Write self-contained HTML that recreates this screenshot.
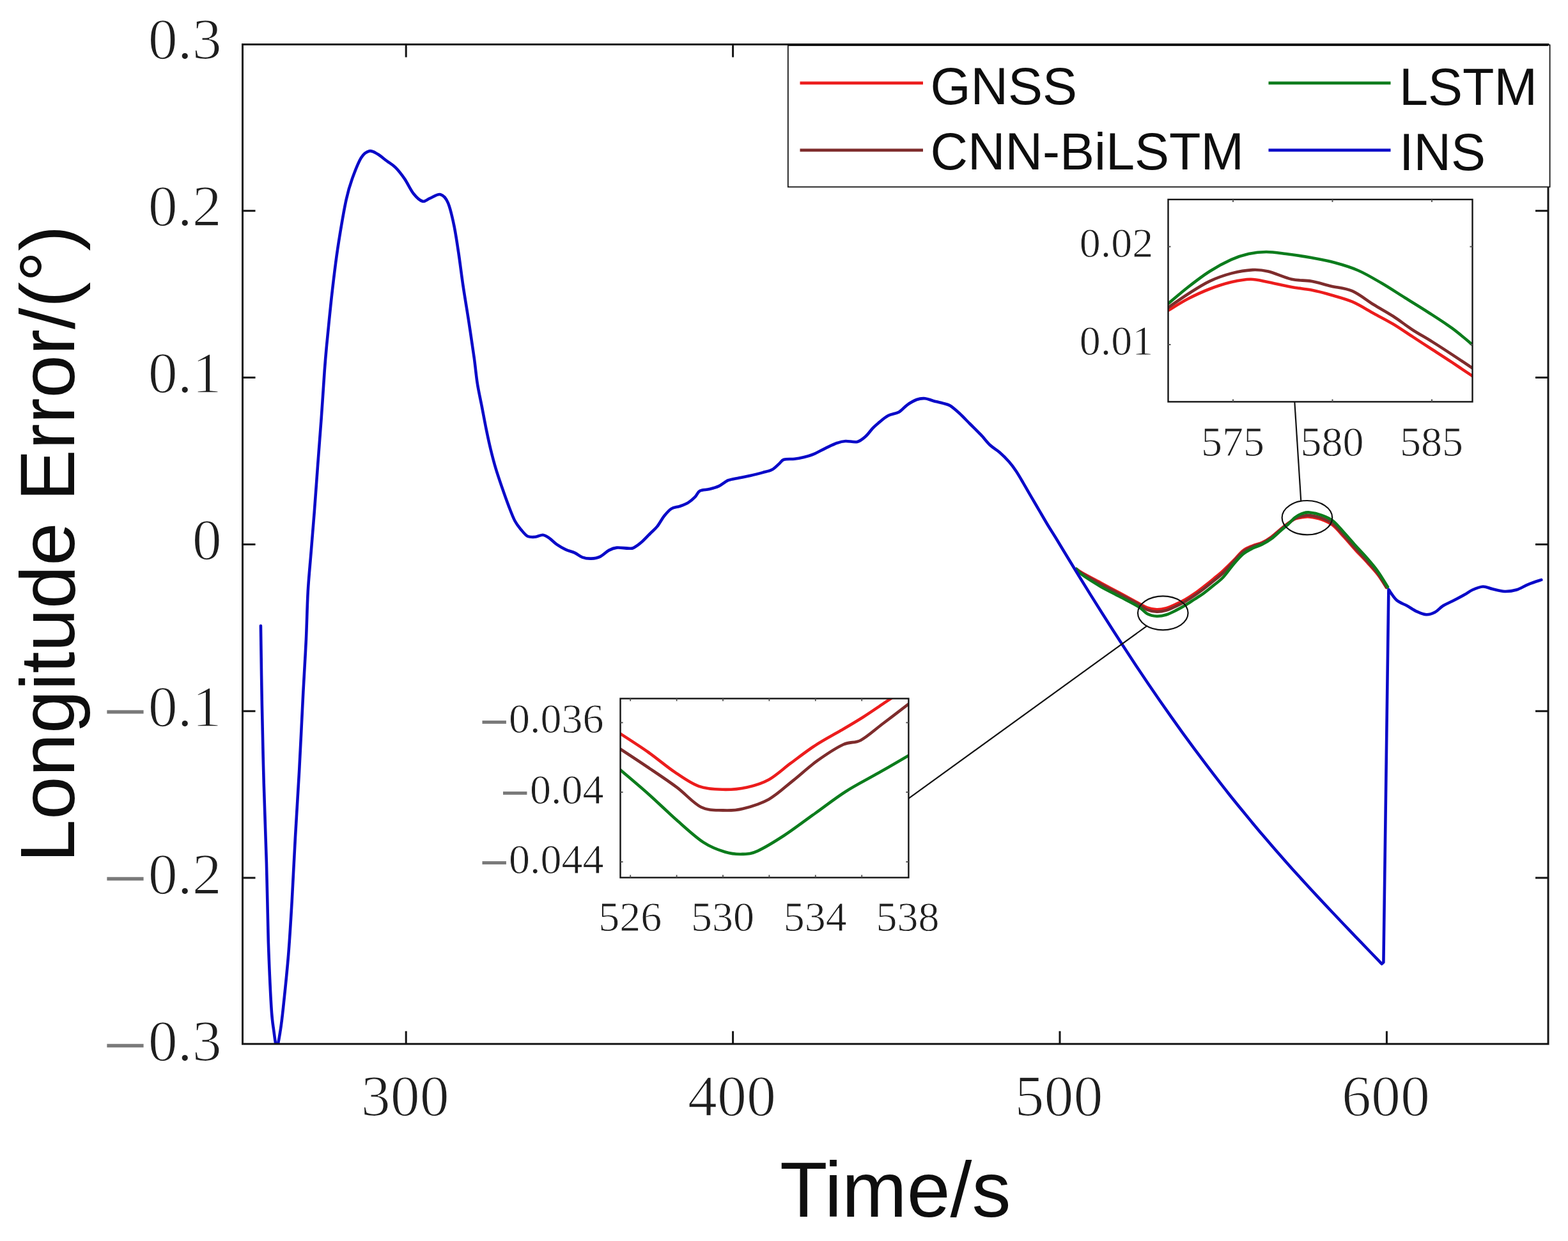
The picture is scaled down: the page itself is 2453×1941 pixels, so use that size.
<!DOCTYPE html><html><head><meta charset="utf-8"><title>Longitude Error</title>
<style>html,body{margin:0;padding:0;background:#fff;}svg{display:block;}.tk{font-family:"Liberation Serif",serif;fill:#1e1e1e;stroke:#fff;stroke-width:1.6px;}.ti{font-family:"Liberation Serif",serif;fill:#1e1e1e;stroke:#fff;stroke-width:0.9px;}.mn{font-family:"Liberation Serif",serif;fill:#7a7a7a;}.lb{font-family:"Liberation Sans",Arial,sans-serif;fill:#0e0e0e;}</style></head><body>
<svg width="2453" height="1941" viewBox="0 0 2453 1941">
<rect width="2453" height="1941" fill="#fff"/>
<defs>
<clipPath id="cm"><rect x="379.5" y="69.5" width="2042.5" height="1563.3"/></clipPath>
<clipPath id="c1"><rect x="970.5" y="1092.6" width="450.9" height="280"/></clipPath>
<clipPath id="c2"><rect x="1827.5" y="312" width="476" height="316.4"/></clipPath>
</defs>
<g clip-path="url(#cm)" fill="none" stroke-linejoin="round" stroke-linecap="round" stroke-width="4.6">
<path d="M1684,890C1685.4,890.9 1685.9,891.9 1692.2,895.5C1698.5,899.1 1712,906.2 1721.9,911.5C1731.8,916.8 1741.6,922.1 1751.5,927.4C1761.4,932.7 1774,939.6 1781.2,943.4C1788.4,947.2 1790,948.7 1794.8,950.4C1799.5,952.1 1804.8,953.3 1809.7,953.4C1814.7,953.5 1819.6,952.6 1824.5,951.2C1829.4,949.8 1834.4,947.4 1839.3,945.2C1844.2,943 1849.1,940.6 1854.1,937.8C1859,935 1864,931.7 1869,928.2C1874,924.8 1878.9,920.9 1883.8,917.1C1888.7,913.3 1893.7,909.3 1898.6,905.2C1903.5,901.1 1908.2,897.4 1913.4,892.6C1918.6,887.8 1924.8,881.7 1930,876.4C1935.2,871.1 1939.8,864.8 1944.8,861C1949.8,857.2 1954.8,855.6 1959.7,853.5C1964.7,851.4 1969.6,850.8 1974.5,848.5C1979.4,846.2 1984.4,843.1 1989.3,839.5C1994.2,835.9 1999.8,830.5 2004.1,827C2008.4,823.5 2011.5,821.1 2015.2,818.5C2018.9,815.9 2022.6,813.1 2026.4,811.5C2030.2,809.9 2034.3,809.5 2038,809C2041.7,808.5 2043.7,807.8 2048.6,808.4C2053.5,809 2061.5,810.3 2067.6,812.5C2073.7,814.7 2079.2,816.9 2085.1,821.5C2090.9,826.1 2096.8,833.6 2102.7,840C2108.6,846.4 2114.5,853.6 2120.3,860C2126.2,866.4 2132,872.1 2137.8,878.5C2143.7,884.9 2150.2,891.8 2155.4,898.5C2160.6,905.2 2166.7,915.6 2169,919" stroke="#ec1c1c"/>
<path d="M1684,890C1685.4,891.1 1685.9,892.6 1692.2,896.5C1698.5,900.4 1712,908 1721.9,913.4C1731.8,918.9 1741.6,923.9 1751.5,929.2C1761.4,934.5 1774,941.2 1781.2,945.2C1788.4,949.3 1790,951.6 1794.8,953.6C1799.5,955.5 1804.8,956.7 1809.7,956.8C1814.7,957 1819.6,956 1824.5,954.6C1829.4,953.2 1834.4,950.7 1839.3,948.4C1844.2,946.1 1849.1,943.6 1854.1,940.7C1859,937.9 1864,934.5 1869,931.1C1874,927.8 1878.9,924.2 1883.8,920.5C1888.7,916.7 1893.7,912.7 1898.6,908.6C1903.5,904.6 1908.2,901.1 1913.4,896C1918.6,891 1924.8,883.9 1930,878.3C1935.2,872.8 1939.8,866.7 1944.8,862.8C1949.8,858.9 1954.8,857 1959.7,854.8C1964.7,852.6 1969.6,851.9 1974.5,849.5C1979.4,847.1 1984.4,844.1 1989.3,840.5C1994.2,836.9 1999.8,831.4 2004.1,827.8C2008.4,824.2 2011.5,821.9 2015.2,819C2018.9,816.1 2022.6,812.7 2026.4,810.7C2030.2,808.7 2034.3,807.8 2038,807C2041.7,806.3 2043.7,805.6 2048.6,806.1C2053.5,806.7 2061.5,808.1 2067.6,810.3C2073.7,812.5 2079.2,814.6 2085.1,819.2C2090.9,823.8 2096.8,831.3 2102.7,837.7C2108.6,844.1 2114.5,851.2 2120.3,857.7C2126.2,864.1 2132,869.8 2137.8,876.4C2143.7,882.9 2150.2,889.8 2155.4,896.9C2160.6,903.9 2166.7,915 2169,918.7" stroke="#7e2c2c"/>
<path d="M1684,890C1685.4,891.4 1685.9,893.9 1692.2,898.5C1698.5,903.1 1712,911.6 1721.9,917.4C1731.8,923.1 1741.6,927.7 1751.5,933C1761.4,938.3 1774,944.5 1781.2,949C1788.4,953.5 1790,957.5 1794.8,960C1799.5,962.5 1804.8,963.5 1809.7,963.8C1814.7,964 1819.6,963 1824.5,961.5C1829.4,960 1834.4,957.4 1839.3,954.9C1844.2,952.4 1849.1,949.7 1854.1,946.7C1859,943.7 1864,940.3 1869,937.1C1874,933.9 1878.9,931 1883.8,927.4C1888.7,923.8 1893.7,919.7 1898.6,915.6C1903.5,911.5 1908.2,908.5 1913.4,903C1918.6,897.5 1924.8,888.4 1930,882.3C1935.2,876.2 1939.8,870.6 1944.8,866.5C1949.8,862.4 1954.8,860 1959.7,857.5C1964.7,855 1969.6,854 1974.5,851.5C1979.4,849 1984.4,846.2 1989.3,842.5C1994.2,838.8 1999.8,833.2 2004.1,829.5C2008.4,825.8 2011.5,823.4 2015.2,820C2018.9,816.6 2022.6,811.8 2026.4,809C2030.2,806.2 2034.3,804.2 2038,803C2041.7,801.8 2043.7,801 2048.6,801.5C2053.5,802 2061.5,803.6 2067.6,805.8C2073.7,808 2079.2,810 2085.1,814.5C2090.9,819 2096.8,826.6 2102.7,833C2108.6,839.4 2114.5,846.5 2120.3,853C2126.2,859.5 2132,865.2 2137.8,872C2143.7,878.8 2149.9,885.8 2155.4,893.5C2160.9,901.2 2168.4,913.9 2171,918" stroke="#0c7c1c"/>
<path d="M407.9,978.9C408.2,999.7 409.1,1062.6 409.9,1103.9C410.7,1145.2 411.6,1185.9 412.8,1226.9C414,1267.9 415.7,1308.8 416.9,1349.8C418.1,1390.8 418.6,1435.3 419.8,1472.8C421.1,1510.3 423,1551.8 424.4,1575C425.8,1598.2 426.9,1601.7 428.3,1612C429.7,1622.3 431.3,1637 433,1637C434.7,1637 436.9,1622.3 438.6,1612C440.3,1601.7 441.1,1594.8 443.2,1575C445.3,1555.2 449,1520.6 451.2,1493.3C453.4,1466 454.8,1442 456.6,1411.3C458.4,1380.6 460.1,1343.1 462,1308.9C463.9,1274.8 466.1,1244 468.1,1206.4C470.2,1168.8 472.5,1117.8 474.3,1083.4C476.1,1049 477.6,1026.7 478.9,1000.2C480.1,973.7 480.5,947.3 481.8,924.4C483.1,901.5 485.1,883.4 486.7,862.9C488.3,842.4 490,823.9 491.7,801.4C493.4,778.9 495.3,752.2 497.1,727.6C498.9,703 500.9,678.4 502.7,653.8C504.5,629.2 506.3,599 507.7,580C509.1,561 509.4,558.1 511.1,539.6C512.9,521.1 515.9,490.8 518.2,469.3C520.6,447.8 522.9,428.4 525.2,410.8C527.5,393.2 529.5,380.3 532.2,363.9C534.9,347.5 538.5,326.4 541.6,312.4C544.7,298.3 547.1,290.5 551,279.6C554.9,268.7 560.5,254 565,246.8C569.5,239.6 573.6,237.3 577.9,236.3C582.2,235.3 586.3,238.5 590.8,241C595.3,243.5 600.1,248 604.8,251.5C609.5,255 614.2,257.4 618.9,262.1C623.6,266.8 628.2,272.8 632.9,279.6C637.6,286.4 642.3,297.1 647,303C651.7,308.9 656.7,313.6 661,314.8C665.3,316 668,311.9 672.7,310.1C677.4,308.3 684.4,303 689.1,304.2C693.8,305.4 697.3,309.1 700.8,317.1C704.3,325.1 707.5,339.3 710.2,352.2C712.9,365.1 714.9,378.8 717.2,394.4C719.6,410 721.6,427.5 724.3,445.9C727,464.2 730.7,485.5 733.6,504.5C736.5,523.5 739.6,544.1 741.8,560C744,575.9 744.8,587.2 746.8,599.8C748.8,612.4 751.5,623.8 753.8,635.7C756.1,647.7 758.4,660.2 760.7,671.5C763,682.8 765.2,693 767.7,703.3C770.2,713.6 772.7,723.2 775.7,733.2C778.7,743.2 782.3,753.5 785.6,763.1C788.9,772.7 792.3,782.3 795.6,790.9C798.9,799.5 802.2,808.5 805.5,814.8C808.8,821.1 812.2,824.8 815.5,828.8C818.8,832.8 821.8,836.9 825.4,838.7C829,840.5 833.4,840 837.4,839.7C841.4,839.4 845.6,836.4 849.3,836.7C852.9,837 855.6,839.2 859.3,841.7C862.9,844.2 866.9,848.7 871.2,851.7C875.5,854.7 880.5,857.5 885.1,859.6C889.8,861.8 894.8,862.6 899.1,864.6C903.4,866.6 906.7,870.1 911,871.6C915.3,873.1 920.4,873.8 925,873.6C929.6,873.4 934.3,872.8 938.9,870.6C943.5,868.4 948.5,862.9 952.8,860.6C957.1,858.3 959.8,857.1 964.8,856.6C969.8,856.1 978.3,857.6 982.7,857.6C987.1,857.6 987.5,858.5 991.1,856.8C994.7,855.1 999.8,851.2 1004.1,847.5C1008.4,843.8 1013.1,838.5 1017.1,834.5C1021.1,830.5 1024.5,828 1028.2,823.4C1031.9,818.8 1035.6,811.3 1039.3,806.7C1043,802.1 1046.4,798.1 1050.4,795.6C1054.4,793.1 1059.1,793.4 1063.4,791.9C1067.7,790.4 1072.3,788.9 1076.3,786.4C1080.3,783.9 1084.4,780.2 1087.5,777.1C1090.6,774 1091.2,769.8 1094.9,767.8C1098.6,765.8 1104.8,766.3 1109.7,765.1C1114.6,763.9 1119.6,762.7 1124.5,760.4C1129.4,758.1 1134,753.4 1139.3,751.2C1144.5,749.1 1150.1,748.7 1156,747.5C1161.9,746.3 1168.3,745.2 1174.5,743.8C1180.7,742.4 1187.5,740.6 1193.1,739.1C1198.7,737.6 1203.6,736.8 1207.9,734.5C1212.2,732.2 1215.9,727.8 1219,725.2C1222.1,722.6 1222.4,719.9 1226.4,718.7C1230.4,717.5 1237.8,718.4 1243.1,717.8C1248.3,717.2 1253,716.2 1257.9,715C1262.8,713.8 1267.1,712.7 1272.7,710.4C1278.3,708.1 1285.1,704 1291.3,701.1C1297.5,698.2 1304.5,694.6 1309.8,692.8C1315,690.9 1317.5,690.3 1322.8,690C1328,689.7 1336.1,692.1 1341.3,690.9C1346.5,689.7 1350.2,686.1 1354.2,682.6C1358.2,679.1 1362,673.2 1365.4,669.6C1368.8,666 1370.8,664.4 1374.8,661.1C1378.8,657.8 1384.3,652.8 1389.6,650C1394.8,647.2 1401.3,647.3 1406.3,644.5C1411.2,641.7 1414.7,636.5 1419.3,633.3C1423.9,630 1429.5,626.7 1434.1,625C1438.7,623.3 1442.8,622.9 1447.1,623.2C1451.4,623.5 1455.4,625.7 1460,626.9C1464.6,628.1 1470.6,629.4 1474.9,630.6C1479.2,631.8 1481.7,631.7 1486,634.3C1490.3,636.9 1495.5,641.5 1500.8,646.3C1506,651.1 1511.9,657.4 1517.5,663C1523.1,668.6 1529,674.2 1534.2,679.7C1539.5,685.2 1544.1,691.7 1549,696.3C1553.9,700.9 1558.9,703.2 1563.8,707.5C1568.7,711.8 1574.3,717.4 1578.6,722.3C1582.9,727.2 1586,731.5 1589.7,737.1C1593.4,742.7 1596.9,748.8 1600.9,755.6C1604.9,762.4 1609.5,770.5 1613.8,777.9C1618.1,785.3 1622.5,792.7 1626.8,800.1C1631.1,807.5 1635.6,815.3 1639.8,822.3C1644,829.2 1647,833.6 1652,841.8C1657,850 1664,861.6 1670,871.5C1676,881.4 1682,891.2 1688,901C1694,910.8 1700,920.5 1706,930.1C1712,939.7 1718,949.3 1724,958.8C1730,968.3 1736,977.7 1742,987C1748,996.3 1754,1005.6 1760,1014.8C1766,1024 1772,1033.2 1778,1042.2C1784,1051.2 1790,1060.2 1796,1069C1802,1077.8 1808,1086.5 1814,1095.2C1820,1103.9 1826,1112.4 1832,1120.9C1838,1129.4 1844,1137.8 1850,1146.1C1856,1154.4 1862,1162.6 1868,1170.7C1874,1178.8 1880,1186.8 1886,1194.7C1892,1202.6 1898,1210.5 1904,1218.2C1910,1226 1916,1233.7 1922,1241.2C1928,1248.8 1934,1256.1 1940,1263.5C1946,1270.9 1952,1278.2 1958,1285.4C1964,1292.6 1970,1299.8 1976,1306.8C1982,1313.8 1988,1320.8 1994,1327.7C2000,1334.6 2006,1341.4 2012,1348.2C2018,1355 2024,1361.7 2030,1368.3C2036,1374.9 2042,1381.5 2048,1388C2054,1394.5 2060,1401 2066,1407.4C2072,1413.8 2078,1420.2 2084,1426.5C2090,1432.8 2096,1439.2 2102,1445.5C2108,1451.8 2114,1458 2120,1464.3C2126,1470.5 2132,1476.8 2138,1483C2144,1489.2 2152.1,1497.6 2156,1501.7C2159.9,1505.8 2160.7,1506.5 2161.6,1507.5 L2161.6,1507.5 L2164.4,1505 L2172.4,922 L2172.4,922C2174.5,924.8 2180.2,934.5 2185,938.8C2189.8,943 2196.1,944.6 2201.3,947.5C2206.5,950.4 2211.3,954 2216.3,956.3C2221.3,958.6 2226.5,961.1 2231.3,961.3C2236.1,961.5 2240.6,959.8 2245,957.5C2249.4,955.2 2252.9,950.4 2257.5,947.5C2262.1,944.6 2266.9,942.9 2272.5,940C2278.1,937.1 2286.1,932.9 2291.3,930C2296.5,927.1 2299,924.6 2303.8,922.5C2308.6,920.4 2314.8,917.7 2320,917.5C2325.2,917.3 2329.4,920 2335,921.3C2340.6,922.5 2347.6,924.8 2353.8,925C2360.1,925.2 2366.2,924.4 2372.5,922.5C2378.8,920.6 2384.8,916.4 2391.3,913.8C2397.8,911.2 2408,908 2411.3,906.9" stroke="#0a0ac8"/>
</g>
<g fill="none" stroke="#111" stroke-width="2.2">
<ellipse cx="1819.3" cy="958.8" rx="39.3" ry="26.5"/>
<ellipse cx="2044.9" cy="809.7" rx="39.3" ry="26.7"/>
<line x1="1421.4" y1="1248.9" x2="1794.1" y2="979.1"/>
<line x1="2025.3" y1="628.4" x2="2035.3" y2="783.8"/>
</g>
<rect x="379.5" y="69.5" width="2042.5" height="1563.3" fill="none" stroke="#141414" stroke-width="3"/>
<path d="M635.2,1632.8V1612.8M635.2,69.5V89.5M1146.6,1632.8V1612.8M1146.6,69.5V89.5M1658,1632.8V1612.8M1658,69.5V89.5M2169.4,1632.8V1612.8M2169.4,69.5V89.5M379.5,329.8H399.5M2422,329.8H2402M379.5,590.6H399.5M2422,590.6H2402M379.5,851.4H399.5M2422,851.4H2402M379.5,1112.2H399.5M2422,1112.2H2402M379.5,1373H399.5M2422,1373H2402" stroke="#141414" stroke-width="3" fill="none"/>
<text class="tk" font-size="92" x="346.8" y="91.5" text-anchor="end">0.3</text>
<text class="tk" font-size="92" x="346.8" y="352.7" text-anchor="end">0.2</text>
<text class="tk" font-size="92" x="346.8" y="613.9" text-anchor="end">0.1</text>
<text class="tk" font-size="92" x="346.8" y="875.1" text-anchor="end">0</text>
<text class="mn" font-size="110" transform="translate(160.9,1149.5) scale(1.117,1)">&#8722;</text>
<text class="tk" font-size="92" x="346.8" y="1136.3" text-anchor="end">0.1</text>
<text class="mn" font-size="110" transform="translate(160.9,1410.7) scale(1.117,1)">&#8722;</text>
<text class="tk" font-size="92" x="346.8" y="1397.5" text-anchor="end">0.2</text>
<text class="mn" font-size="110" transform="translate(160.9,1671.9) scale(1.117,1)">&#8722;</text>
<text class="tk" font-size="92" x="346.8" y="1658.7" text-anchor="end">0.3</text>
<text class="tk" font-size="92" x="633.7" y="1745" text-anchor="middle">300</text>
<text class="tk" font-size="92" x="1145.1" y="1745" text-anchor="middle">400</text>
<text class="tk" font-size="92" x="1656.5" y="1745" text-anchor="middle">500</text>
<text class="tk" font-size="92" x="2167.9" y="1745" text-anchor="middle">600</text>
<text class="lb" font-size="122" x="1220" y="1902.6">Time/s</text>
<text class="lb" font-size="121" transform="translate(115.5,1349) rotate(-90)">Longitude Error/(°)</text>
<rect x="1232.8" y="70.4" width="1191.8" height="222" fill="#fff" stroke="#141414" stroke-width="1.8"/>
<path d="M1232.8,70.4V70.4H2422" fill="none" stroke="#141414" stroke-width="3"/>
<g stroke-width="4.6" fill="none">
<path d="M1251.5,129.9H1444" stroke="#ec1c1c"/>
<path d="M1251.5,234.9H1444" stroke="#7e2c2c"/>
<path d="M1984.5,129.9H2175.5" stroke="#0c7c1c"/>
<path d="M1984.5,234.9H2175.5" stroke="#0a0ac8"/>
</g>
<text class="lb" font-size="81" x="1455.5" y="163.3">GNSS</text>
<text class="lb" font-size="81" x="1455.5" y="265.2">CNN-BiLSTM</text>
<text class="lb" font-size="81" x="2189" y="163.8">LSTM</text>
<text class="lb" font-size="81" x="2189" y="265.5">INS</text>
<rect x="970.5" y="1092.6" width="450.9" height="280" fill="#fff"/>
<g clip-path="url(#c1)" fill="none" stroke-linejoin="round" stroke-linecap="round" stroke-width="4.6">
<path d="M970.3,1147.4C977.6,1152.2 1000,1166.5 1014.2,1176.5C1028.4,1186.5 1042.2,1198.5 1055.3,1207.4C1068.4,1216.3 1080.4,1225.1 1093,1229.7C1105.6,1234.3 1118.1,1234.5 1130.7,1234.8C1143.3,1235.1 1156.4,1234 1168.4,1231.4C1180.4,1228.8 1191.3,1225.7 1202.7,1219.4C1214.1,1213.1 1225,1202.6 1237,1193.7C1249,1184.8 1261.6,1174.9 1274.7,1166.3C1287.8,1157.7 1303.2,1149.7 1315.8,1142.3C1328.4,1134.9 1339.2,1128.6 1350.1,1121.7C1360.9,1114.8 1372.1,1107 1380.9,1101.1C1389.8,1095.2 1399.5,1088.7 1403.2,1086.2" stroke="#ec1c1c"/>
<path d="M970.3,1171.4C977.6,1176.2 999.5,1190.5 1014.2,1200.5C1029,1210.5 1045.1,1221.1 1058.8,1231.4C1072.5,1241.7 1084.5,1256.2 1096.5,1262.2C1108.5,1268.2 1119.9,1266.9 1130.7,1267.4C1141.5,1267.9 1149.6,1267.9 1161.6,1265C1173.6,1262.1 1189.6,1257.5 1202.7,1250.2C1215.8,1242.9 1227.8,1231.1 1240.4,1221.1C1253,1211.1 1265,1199.6 1278.1,1190.2C1291.2,1180.8 1307.8,1169.9 1319.2,1164.5C1330.6,1159.1 1336.4,1163.1 1346.7,1157.7C1357,1152.3 1368.5,1141.4 1380.9,1132C1393.4,1122.6 1414.7,1106.2 1421.4,1101.1" stroke="#7e2c2c"/>
<path d="M970.3,1204C977.6,1210.3 999.5,1228.6 1014.2,1241.7C1029,1254.8 1044.5,1270.2 1058.8,1282.8C1073.1,1295.4 1087.3,1308.8 1099.9,1317.1C1112.5,1325.4 1123.9,1329.4 1134.2,1332.5C1144.5,1335.6 1153,1336.2 1161.6,1335.9C1170.2,1335.6 1174.8,1335.7 1185.6,1330.8C1196.4,1325.9 1211.8,1316.5 1226.7,1306.8C1241.6,1297.1 1258.7,1283.9 1274.7,1272.5C1290.7,1261.1 1306.1,1248.8 1322.7,1238.2C1339.3,1227.6 1357.6,1218.5 1374.1,1209.1C1390.5,1199.7 1413.5,1186.3 1421.4,1181.7" stroke="#0c7c1c"/>
</g>
<rect x="970.5" y="1092.6" width="450.9" height="280" fill="none" stroke="#141414" stroke-width="2.4"/>
<path d="M986.2,1372.6v-4M986.2,1092.6v4M1058.6,1372.6v-4M1058.6,1092.6v4M1131,1372.6v-4M1131,1092.6v4M1203.4,1372.6v-4M1203.4,1092.6v4M1275.8,1372.6v-4M1275.8,1092.6v4M1348.2,1372.6v-4M1348.2,1092.6v4M970.5,1130.3h4M1421.4,1130.3h-4M970.5,1239.1h4M1421.4,1239.1h-4M970.5,1347.9h4M1421.4,1347.9h-4" stroke="#555" stroke-width="2" fill="none"/>
<text class="ti" font-size="66" x="985.7" y="1456" text-anchor="middle">526</text>
<text class="ti" font-size="66" x="1130.5" y="1456" text-anchor="middle">530</text>
<text class="ti" font-size="66" x="1275.3" y="1456" text-anchor="middle">534</text>
<text class="ti" font-size="66" x="1420.1" y="1456" text-anchor="middle">538</text>
<text class="mn" font-size="100" transform="translate(750.4,1162.5) scale(0.804,1)">&#8722;</text>
<text class="ti" font-size="66" x="944.5" y="1145.5" text-anchor="end">0.036</text>
<text class="mn" font-size="100" transform="translate(783,1274) scale(0.804,1)">&#8722;</text>
<text class="ti" font-size="66" x="944.5" y="1257" text-anchor="end">0.04</text>
<text class="mn" font-size="100" transform="translate(750.4,1383) scale(0.804,1)">&#8722;</text>
<text class="ti" font-size="66" x="944.5" y="1366" text-anchor="end">0.044</text>
<rect x="1827.5" y="312" width="476" height="316.4" fill="#fff"/>
<g clip-path="url(#c2)" fill="none" stroke-linejoin="round" stroke-linecap="round" stroke-width="4.6">
<path d="M1827.5,485.6C1832.7,482.6 1847.9,472.9 1858.7,467.3C1869.5,461.7 1881.1,456.3 1892.3,452C1903.5,447.7 1915.3,443.9 1926,441.3C1936.7,438.8 1946.8,436.7 1956.5,436.7C1966.2,436.7 1973.3,439.2 1984,441.3C1994.7,443.4 2009.5,447 2020.7,449C2031.9,451 2041.1,451.5 2051.3,453.5C2061.5,455.5 2071.2,458.1 2081.9,461.2C2092.6,464.3 2104.3,467.1 2115.5,471.9C2126.7,476.7 2138.4,484.3 2149.1,490.2C2159.8,496.1 2169.5,500.9 2179.7,507C2189.9,513.1 2200.1,520.3 2210.3,526.9C2220.5,533.5 2230.6,540.2 2240.8,546.8C2251,553.4 2261,559.8 2271.4,566.7C2281.8,573.6 2298.2,584.5 2303.5,588.1" stroke="#ec1c1c"/>
<path d="M1827.5,481.1C1832.7,477.5 1847.9,466.6 1858.7,459.7C1869.5,452.8 1881.1,445.1 1892.3,439.8C1903.5,434.5 1914.8,430.6 1926,427.6C1937.2,424.7 1949.9,422.6 1959.6,422.1C1969.3,421.6 1973.8,422.1 1984,424.5C1994.2,426.9 2009.5,434.1 2020.7,436.7C2031.9,439.2 2041.1,438 2051.3,439.8C2061.5,441.6 2071.2,444.8 2081.9,447.4C2092.6,449.9 2104.3,450.2 2115.5,455.1C2126.7,460 2138.4,469.9 2149.1,476.5C2159.8,483.1 2169.5,488.2 2179.7,494.8C2189.9,501.4 2200.1,509.6 2210.3,516.2C2220.5,522.8 2230.6,528.2 2240.8,534.6C2251,541 2261,547.5 2271.4,554.4C2281.8,561.3 2298.2,572.2 2303.5,575.8" stroke="#7e2c2c"/>
<path d="M1827.5,475C1832.7,470.7 1847.9,457.4 1858.7,449C1869.5,440.6 1881.1,431.6 1892.3,424.5C1903.5,417.4 1915.8,410.8 1926,406.2C1936.2,401.6 1944.3,399 1953.5,397C1962.7,395 1971.3,394 1981,394C1990.7,394 1999.9,395.5 2011.6,397C2023.3,398.5 2038.6,400.8 2051.3,403.1C2064,405.4 2075.8,407.5 2088,410.8C2100.2,414.1 2112.5,417.7 2124.7,423C2136.9,428.3 2149.1,435.7 2161.3,442.8C2173.5,449.9 2185.8,458.2 2198,465.8C2210.2,473.4 2222.5,480.8 2234.7,488.7C2246.9,496.6 2259.9,504.8 2271.4,513.2C2282.9,521.6 2298.2,534.8 2303.5,539.1" stroke="#0c7c1c"/>
</g>
<rect x="1827.5" y="312" width="476" height="316.4" fill="none" stroke="#141414" stroke-width="2.4"/>
<path d="M1929,628.4v-4M1929,312v4M2084.5,628.4v-4M2084.5,312v4M2240,628.4v-4M2240,312v4M1827.5,385.7h4M2303.5,385.7h-4M1827.5,539.1h4M2303.5,539.1h-4" stroke="#555" stroke-width="2" fill="none"/>
<text class="ti" font-size="66" x="1928.5" y="712.5" text-anchor="middle">575</text>
<text class="ti" font-size="66" x="2084" y="712.5" text-anchor="middle">580</text>
<text class="ti" font-size="66" x="2239.5" y="712.5" text-anchor="middle">585</text>
<text class="ti" font-size="66" x="1804.3" y="401.5" text-anchor="end">0.02</text>
<text class="ti" font-size="66" x="1804.3" y="555.3" text-anchor="end">0.01</text>
</svg></body></html>
